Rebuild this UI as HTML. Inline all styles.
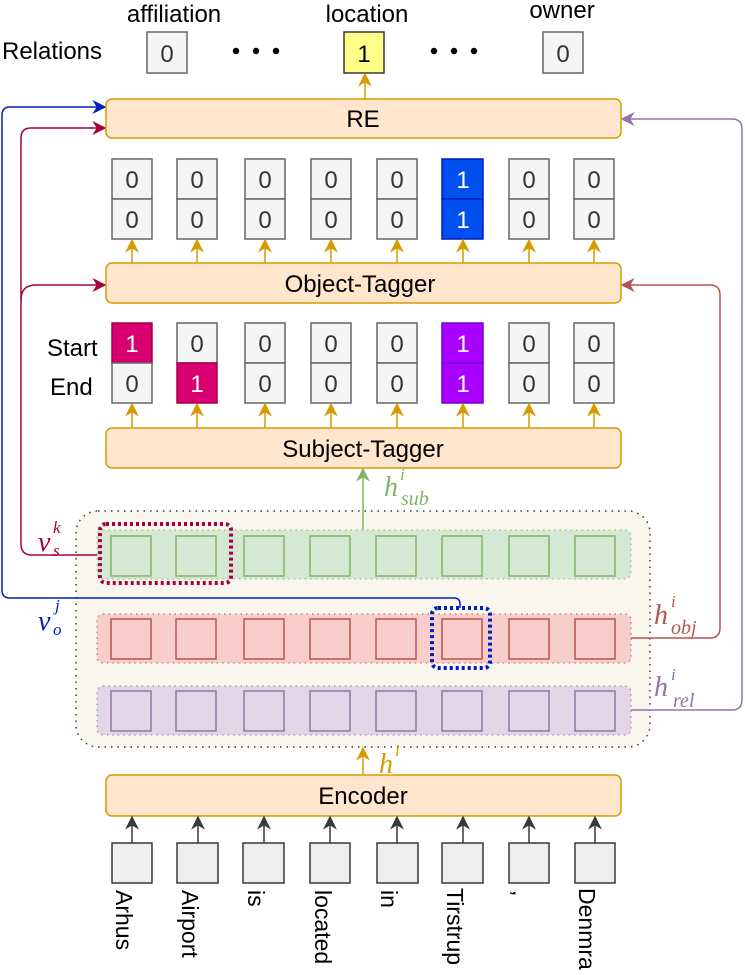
<!DOCTYPE html>
<html><head><meta charset="utf-8"><style>
html,body{margin:0;padding:0;background:#fff;}
svg{display:block;}
text{font-family:"Liberation Sans",sans-serif;}
.m{font-family:"Liberation Serif",serif;font-style:italic;}
</style></head><body>
<svg width="745" height="975" viewBox="0 0 745 975" xmlns="http://www.w3.org/2000/svg">
<defs>
<marker id="ao" viewBox="0 0 10 10" refX="9" refY="5" markerWidth="14" markerHeight="14" markerUnits="userSpaceOnUse" orient="auto"><path d="M0,0 L10,5 L0,10 L3,5 z" fill="#d79b00"/></marker>
<marker id="ad" viewBox="0 0 10 10" refX="9" refY="5" markerWidth="14" markerHeight="14" markerUnits="userSpaceOnUse" orient="auto"><path d="M0,0 L10,5 L0,10 L3,5 z" fill="#36393d"/></marker>
<marker id="ag" viewBox="0 0 10 10" refX="9" refY="5" markerWidth="14" markerHeight="14" markerUnits="userSpaceOnUse" orient="auto"><path d="M0,0 L10,5 L0,10 L3,5 z" fill="#82b366"/></marker>
<marker id="ab" viewBox="0 0 10 10" refX="9" refY="5" markerWidth="14" markerHeight="14" markerUnits="userSpaceOnUse" orient="auto"><path d="M0,0 L10,5 L0,10 L3,5 z" fill="#001dbc"/></marker>
<marker id="ac" viewBox="0 0 10 10" refX="9" refY="5" markerWidth="14" markerHeight="14" markerUnits="userSpaceOnUse" orient="auto"><path d="M0,0 L10,5 L0,10 L3,5 z" fill="#a50040"/></marker>
<marker id="ar" viewBox="0 0 10 10" refX="9" refY="5" markerWidth="14" markerHeight="14" markerUnits="userSpaceOnUse" orient="auto"><path d="M0,0 L10,5 L0,10 L3,5 z" fill="#b85450"/></marker>
<marker id="ap" viewBox="0 0 10 10" refX="9" refY="5" markerWidth="14" markerHeight="14" markerUnits="userSpaceOnUse" orient="auto"><path d="M0,0 L10,5 L0,10 L3,5 z" fill="#9673a6"/></marker>
</defs>

<!-- Relations -->
<text x="2" y="59" font-size="24" fill="#000" textLength="100">Relations</text>
<text x="174" y="22" font-size="24" text-anchor="middle">affiliation</text>
<text x="367" y="22" font-size="24" text-anchor="middle">location</text>
<text x="562" y="18" font-size="24" text-anchor="middle">owner</text>
<rect x="147" y="32" width="40" height="41" fill="#f5f5f5" stroke="#666" stroke-width="1.5"/>
<text x="167" y="62" font-size="24" text-anchor="middle" fill="#333">0</text>
<rect x="344" y="32" width="40" height="41" fill="#ffff88" stroke="#36393d" stroke-width="1.5"/>
<text x="364" y="62" font-size="24" text-anchor="middle">1</text>
<rect x="543" y="32" width="40" height="41" fill="#f5f5f5" stroke="#666" stroke-width="1.5"/>
<text x="563" y="62" font-size="24" text-anchor="middle" fill="#333">0</text>
<g fill="#000"><circle cx="236" cy="51" r="3.2"/><circle cx="256" cy="51" r="3.2"/><circle cx="276" cy="51" r="3.2"/>
<circle cx="434" cy="51" r="3.2"/><circle cx="454" cy="51" r="3.2"/><circle cx="474" cy="51" r="3.2"/></g>
<line x1="365" y1="99" x2="365" y2="74" stroke="#d79b00" stroke-width="1.5" marker-end="url(#ao)"/>

<!-- container -->
<rect x="76" y="511" width="574" height="236" rx="22" fill="#f9f7ed" stroke="#36393d" stroke-width="1.5" stroke-dasharray="1.5,5"/>

<!-- connectors -->
<path d="M460,608 L460,604 Q460,598 454,598 L10,598 Q2,598 2,590 L2,115 Q2,107 10,107 L105,107" fill="none" stroke="#001dbc" stroke-width="1.5" marker-end="url(#ab)"/>
<path d="M97,555 L32,555 Q21,555 21,544 L21,138 Q21,128 31,128 L105,128" fill="none" stroke="#a50040" stroke-width="1.5" marker-end="url(#ac)"/>
<path d="M21,300 Q21,285 36,285 L105,285" fill="none" stroke="#a50040" stroke-width="1.5" marker-end="url(#ac)"/>
<path d="M631,638 L710,638 Q720,638 720,628 L720,295 Q720,285 710,285 L622,285" fill="none" stroke="#b85450" stroke-width="1.5" marker-end="url(#ar)"/>
<path d="M631,710 L732,710 Q742,710 742,700 L742,129 Q742,119 732,119 L622,119" fill="none" stroke="#9673a6" stroke-width="1.5" marker-end="url(#ap)"/>

<!-- RE -->
<rect x="106" y="99" width="515" height="39" rx="6" fill="#ffe6cc" stroke="#d79b00" stroke-width="1.5"/>
<text x="363" y="127" font-size="24" text-anchor="middle">RE</text>

<!-- Object tagger output -->
<g font-size="24" text-anchor="middle">
<rect x="112" y="159" width="40" height="40" fill="#f5f5f5" stroke="#666" stroke-width="1.5"/><rect x="112" y="199" width="40" height="40" fill="#f5f5f5" stroke="#666" stroke-width="1.5"/>
<text x="132" y="188" fill="#333">0</text><text x="132" y="228" fill="#333">0</text>
<rect x="177" y="159" width="40" height="40" fill="#f5f5f5" stroke="#666" stroke-width="1.5"/><rect x="177" y="199" width="40" height="40" fill="#f5f5f5" stroke="#666" stroke-width="1.5"/>
<text x="197" y="188" fill="#333">0</text><text x="197" y="228" fill="#333">0</text>
<rect x="245" y="159" width="40" height="40" fill="#f5f5f5" stroke="#666" stroke-width="1.5"/><rect x="245" y="199" width="40" height="40" fill="#f5f5f5" stroke="#666" stroke-width="1.5"/>
<text x="265" y="188" fill="#333">0</text><text x="265" y="228" fill="#333">0</text>
<rect x="311" y="159" width="40" height="40" fill="#f5f5f5" stroke="#666" stroke-width="1.5"/><rect x="311" y="199" width="40" height="40" fill="#f5f5f5" stroke="#666" stroke-width="1.5"/>
<text x="331" y="188" fill="#333">0</text><text x="331" y="228" fill="#333">0</text>
<rect x="377" y="159" width="40" height="40" fill="#f5f5f5" stroke="#666" stroke-width="1.5"/><rect x="377" y="199" width="40" height="40" fill="#f5f5f5" stroke="#666" stroke-width="1.5"/>
<text x="397" y="188" fill="#333">0</text><text x="397" y="228" fill="#333">0</text>
<rect x="442" y="159" width="41" height="40" fill="#0050ef" stroke="#001dbc" stroke-width="1.5"/><rect x="442" y="199" width="41" height="40" fill="#0050ef" stroke="#001dbc" stroke-width="1.5"/>
<text x="463" y="188" fill="#fff">1</text><text x="463" y="228" fill="#fff">1</text>
<rect x="509" y="159" width="40" height="40" fill="#f5f5f5" stroke="#666" stroke-width="1.5"/><rect x="509" y="199" width="40" height="40" fill="#f5f5f5" stroke="#666" stroke-width="1.5"/>
<text x="529" y="188" fill="#333">0</text><text x="529" y="228" fill="#333">0</text>
<rect x="574" y="159" width="40" height="40" fill="#f5f5f5" stroke="#666" stroke-width="1.5"/><rect x="574" y="199" width="40" height="40" fill="#f5f5f5" stroke="#666" stroke-width="1.5"/>
<text x="594" y="188" fill="#333">0</text><text x="594" y="228" fill="#333">0</text>
</g>
<g stroke="#d79b00" stroke-width="1.5" marker-end="url(#ao)">
<line x1="132" y1="263" x2="132" y2="240"/><line x1="197" y1="263" x2="197" y2="240"/><line x1="265" y1="263" x2="265" y2="240"/><line x1="331" y1="263" x2="331" y2="240"/><line x1="397" y1="263" x2="397" y2="240"/><line x1="463" y1="263" x2="463" y2="240"/><line x1="529" y1="263" x2="529" y2="240"/><line x1="594" y1="263" x2="594" y2="240"/>
</g>
<rect x="106" y="263" width="515" height="40" rx="6" fill="#ffe6cc" stroke="#d79b00" stroke-width="1.5"/>
<text x="360" y="292" font-size="24" text-anchor="middle">Object-Tagger</text>

<!-- Subject tagger output -->
<text x="47" y="356" font-size="24">Start</text>
<text x="50" y="395" font-size="24">End</text>
<g font-size="24" text-anchor="middle">
<rect x="112" y="323" width="40" height="40" fill="#d80073" stroke="#a50040" stroke-width="1.5"/><rect x="112" y="363" width="40" height="40" fill="#f5f5f5" stroke="#666" stroke-width="1.5"/>
<text x="132" y="352" fill="#fff">1</text><text x="132" y="392" fill="#333">0</text>
<rect x="177" y="323" width="40" height="40" fill="#f5f5f5" stroke="#666" stroke-width="1.5"/><rect x="177" y="363" width="40" height="40" fill="#d80073" stroke="#a50040" stroke-width="1.5"/>
<text x="197" y="352" fill="#333">0</text><text x="197" y="392" fill="#fff">1</text>
<rect x="245" y="323" width="40" height="40" fill="#f5f5f5" stroke="#666" stroke-width="1.5"/><rect x="245" y="363" width="40" height="40" fill="#f5f5f5" stroke="#666" stroke-width="1.5"/>
<text x="265" y="352" fill="#333">0</text><text x="265" y="392" fill="#333">0</text>
<rect x="311" y="323" width="40" height="40" fill="#f5f5f5" stroke="#666" stroke-width="1.5"/><rect x="311" y="363" width="40" height="40" fill="#f5f5f5" stroke="#666" stroke-width="1.5"/>
<text x="331" y="352" fill="#333">0</text><text x="331" y="392" fill="#333">0</text>
<rect x="377" y="323" width="40" height="40" fill="#f5f5f5" stroke="#666" stroke-width="1.5"/><rect x="377" y="363" width="40" height="40" fill="#f5f5f5" stroke="#666" stroke-width="1.5"/>
<text x="397" y="352" fill="#333">0</text><text x="397" y="392" fill="#333">0</text>
<rect x="442" y="323" width="41" height="40" fill="#aa00ff" stroke="#7700cc" stroke-width="1.5"/><rect x="442" y="363" width="41" height="40" fill="#aa00ff" stroke="#7700cc" stroke-width="1.5"/>
<text x="463" y="352" fill="#fff">1</text><text x="463" y="392" fill="#fff">1</text>
<rect x="509" y="323" width="40" height="40" fill="#f5f5f5" stroke="#666" stroke-width="1.5"/><rect x="509" y="363" width="40" height="40" fill="#f5f5f5" stroke="#666" stroke-width="1.5"/>
<text x="529" y="352" fill="#333">0</text><text x="529" y="392" fill="#333">0</text>
<rect x="574" y="323" width="40" height="40" fill="#f5f5f5" stroke="#666" stroke-width="1.5"/><rect x="574" y="363" width="40" height="40" fill="#f5f5f5" stroke="#666" stroke-width="1.5"/>
<text x="594" y="352" fill="#333">0</text><text x="594" y="392" fill="#333">0</text>
</g>
<g stroke="#d79b00" stroke-width="1.5" marker-end="url(#ao)">
<line x1="132" y1="428" x2="132" y2="404"/><line x1="197" y1="428" x2="197" y2="404"/><line x1="265" y1="428" x2="265" y2="404"/><line x1="331" y1="428" x2="331" y2="404"/><line x1="397" y1="428" x2="397" y2="404"/><line x1="463" y1="428" x2="463" y2="404"/><line x1="529" y1="428" x2="529" y2="404"/><line x1="594" y1="428" x2="594" y2="404"/>
</g>
<rect x="106" y="428" width="515" height="40" rx="6" fill="#ffe6cc" stroke="#d79b00" stroke-width="1.5"/>
<text x="363" y="457" font-size="24" text-anchor="middle">Subject-Tagger</text>

<line x1="363" y1="530" x2="363" y2="469" stroke="#82b366" stroke-width="1.5" marker-end="url(#ag)"/>
<text x="384" y="496" font-size="28" fill="#82b366" class="m">h</text>
<text x="400" y="480" font-size="17" fill="#82b366" class="m">i</text>
<text x="401" y="505" font-size="20" fill="#82b366" class="m">sub</text>

<!-- bands -->
<rect x="97" y="530" width="534" height="49" rx="6" fill="#d5e8d4" stroke="#82b366" stroke-width="1" stroke-dasharray="1.5,4"/>
<rect x="97" y="614" width="534" height="49" rx="6" fill="#f8cecc" stroke="#b85450" stroke-width="1" stroke-dasharray="1.5,4"/>
<rect x="97" y="686" width="534" height="49" rx="6" fill="#e1d5e7" stroke="#9673a6" stroke-width="1" stroke-dasharray="1.5,4"/>
<g fill="none" stroke-width="1.5">
<g stroke="#82b366">
<rect x="111" y="536" width="40" height="40"/><rect x="176" y="536" width="40" height="40"/><rect x="244" y="536" width="40" height="40"/><rect x="310" y="536" width="40" height="40"/><rect x="376" y="536" width="40" height="40"/><rect x="442" y="536" width="40" height="40"/><rect x="509" y="536" width="40" height="40"/><rect x="575" y="536" width="40" height="40"/>
</g>
<g stroke="#b85450">
<rect x="111" y="619" width="40" height="40"/><rect x="176" y="619" width="40" height="40"/><rect x="244" y="619" width="40" height="40"/><rect x="310" y="619" width="40" height="40"/><rect x="376" y="619" width="40" height="40"/><rect x="442" y="619" width="40" height="40"/><rect x="509" y="619" width="40" height="40"/><rect x="575" y="619" width="40" height="40"/>
</g>
<g stroke="#9673a6">
<rect x="111" y="691" width="40" height="40"/><rect x="176" y="691" width="40" height="40"/><rect x="244" y="691" width="40" height="40"/><rect x="310" y="691" width="40" height="40"/><rect x="376" y="691" width="40" height="40"/><rect x="442" y="691" width="40" height="40"/><rect x="509" y="691" width="40" height="40"/><rect x="575" y="691" width="40" height="40"/>
</g>
<rect x="100" y="524" width="131" height="59" rx="6" stroke="#a50040" stroke-width="4" stroke-dasharray="3,3"/>
<rect x="432" y="608" width="58" height="60" rx="6" stroke="#001dbc" stroke-width="4" stroke-dasharray="3,3"/>
</g>

<!-- labels -->
<text x="38" y="551" font-size="28" fill="#a50040" class="m">v</text>
<text x="53" y="533" font-size="17" fill="#a50040" class="m">k</text>
<text x="53" y="556" font-size="17" fill="#a50040" class="m">s</text>
<text x="38" y="630" font-size="28" fill="#001dbc" class="m">v</text>
<text x="55" y="611" font-size="17" fill="#001dbc" class="m">j</text>
<text x="53" y="635" font-size="17" fill="#001dbc" class="m">o</text>
<text x="654" y="624" font-size="28" fill="#b85450" class="m">h</text>
<text x="671" y="607" font-size="17" fill="#b85450" class="m">i</text>
<text x="671" y="634" font-size="20" fill="#b85450" class="m">obj</text>
<text x="654" y="696" font-size="28" fill="#9673a6" class="m">h</text>
<text x="671" y="680" font-size="17" fill="#9673a6" class="m">i</text>
<text x="673" y="707" font-size="20" fill="#9673a6" class="m">rel</text>

<!-- encoder -->
<line x1="363" y1="775" x2="363" y2="748" stroke="#d79b00" stroke-width="1.5" marker-end="url(#ao)"/>
<text x="379" y="773" font-size="28" fill="#d79b00" class="m">h</text>
<text x="395" y="756" font-size="17" fill="#d79b00" class="m">i</text>
<rect x="106" y="775" width="515" height="41" rx="6" fill="#ffe6cc" stroke="#d79b00" stroke-width="1.5"/>
<text x="363" y="804" font-size="24" text-anchor="middle">Encoder</text>

<g fill="#eeeeee" stroke="#36393d" stroke-width="1.5">
<rect x="112" y="843" width="40" height="40"/><rect x="177" y="843" width="41" height="40"/><rect x="243" y="843" width="41" height="40"/><rect x="310" y="843" width="40" height="40"/><rect x="377" y="843" width="41" height="40"/><rect x="442" y="843" width="41" height="40"/><rect x="509" y="843" width="40" height="40"/><rect x="575" y="843" width="40" height="40"/>
</g>
<g stroke="#36393d" stroke-width="1.5" marker-end="url(#ad)">
<line x1="132" y1="843" x2="132" y2="817"/><line x1="198" y1="843" x2="198" y2="817"/><line x1="264" y1="843" x2="264" y2="817"/><line x1="330" y1="843" x2="330" y2="817"/><line x1="397" y1="843" x2="397" y2="817"/><line x1="463" y1="843" x2="463" y2="817"/><line x1="529" y1="843" x2="529" y2="817"/><line x1="595" y1="843" x2="595" y2="817"/>
</g>
<g font-size="23" fill="#000">
<text transform="translate(116,890) rotate(90)">Arhus</text>
<text transform="translate(182,890) rotate(90)">Airport</text>
<text transform="translate(248,890) rotate(90)">is</text>
<text transform="translate(315,890) rotate(90)">located</text>
<text transform="translate(381,890) rotate(90)">in</text>
<text transform="translate(447,888) rotate(90)">Tirstrup</text>
<text transform="translate(513,890) rotate(90)">,</text>
<text transform="translate(579,888) rotate(90)">Denmra</text>
</g>
</svg>
</body></html>
